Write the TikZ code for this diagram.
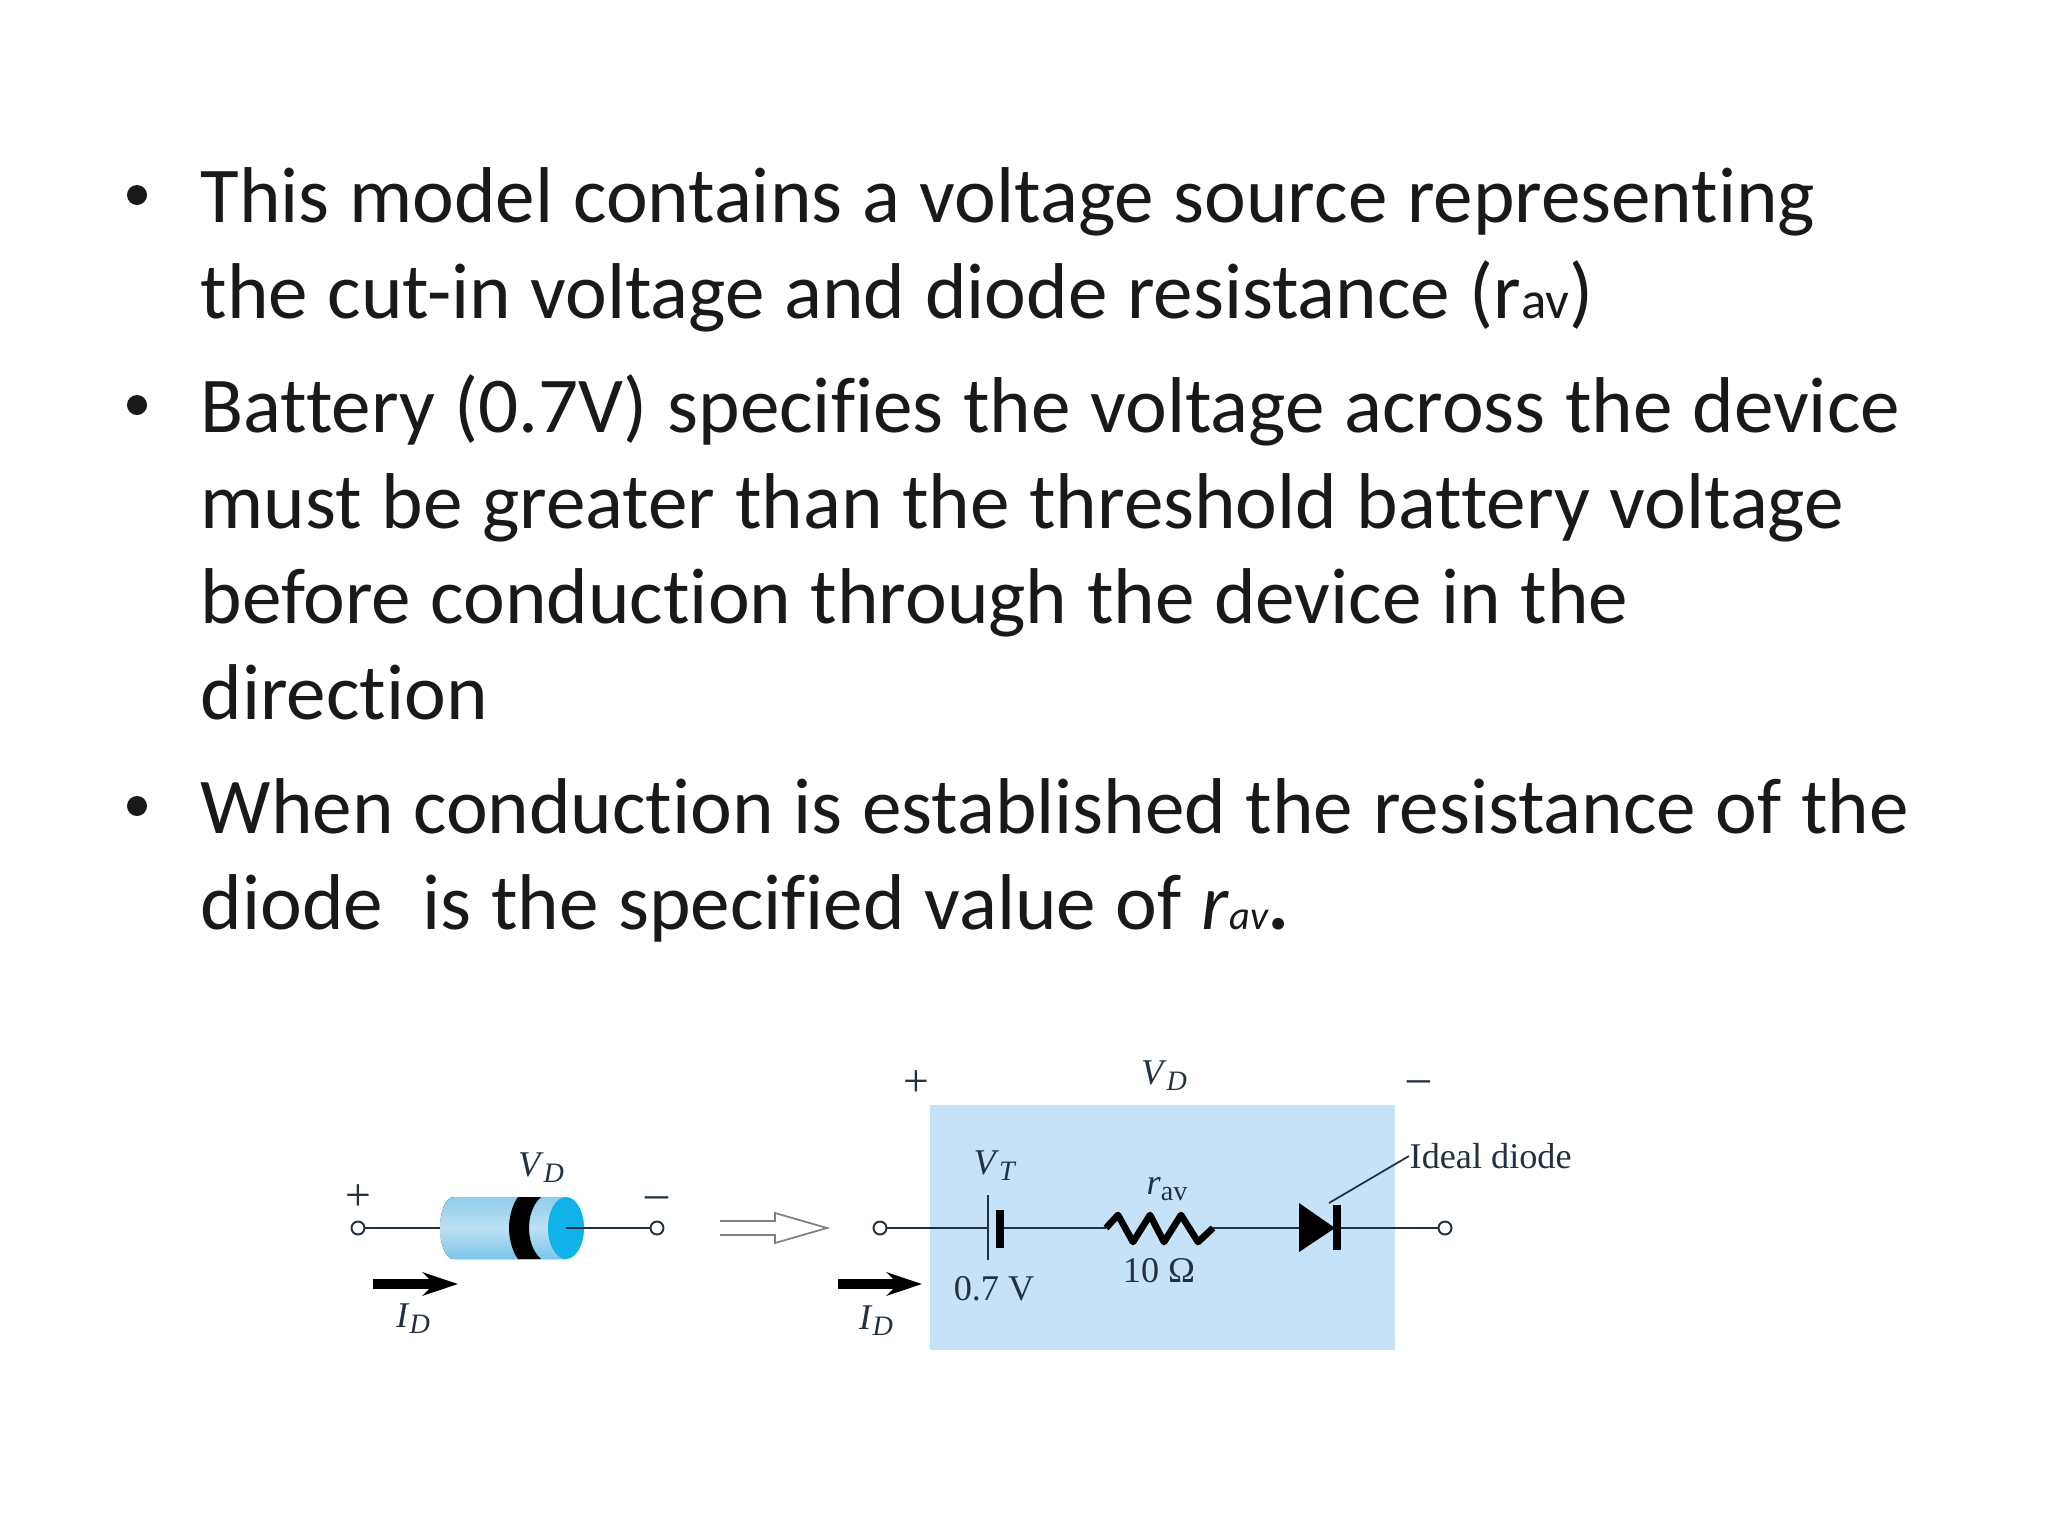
\documentclass[tikz,border=0pt]{standalone}
\usepackage{xcolor}
\usepackage{fontspec}
\setmainfont{Carlito}[Ligatures=NoCommon]
\newfontfamily\figfont{Liberation Serif}
\usepackage{tikz}
\usetikzlibrary{shapes,arrows,positioning,calc,arrows.meta}
\definecolor{boxblue}{HTML}{C5E2F8}
\definecolor{bodytop}{HTML}{8FCDEC}
\definecolor{bodymid}{HTML}{BCE0F3}
\definecolor{bodylow}{HTML}{7CC6EA}
\definecolor{capblue}{HTML}{10B2EA}
\definecolor{wireink}{HTML}{22313F}
\newcommand{\subbed}[2]{\textit{#1}\raisebox{-.35ex}{\fontsize{8}{9}\selectfont\textit{#2}}}
\tikzset{
    slidetext/.style={anchor=north west, inner sep=0pt, align=left, text width=195mm,
        font=\fontsize{22.5}{27.2}\selectfont, text=black!90,
        execute at begin node={\spaceskip=5.6pt\relax}},
    bulletdot/.style={circle, fill=black!90, inner sep=0pt, minimum size=20*0.2845pt},
    terminal/.style={circle, draw=wireink, fill=white, line width=0.55pt, inner sep=0pt, minimum size=13*0.2845pt},
    figlabel/.style={inner sep=0pt, font=\figfont\fontsize{10.3}{12}\selectfont, text=wireink},
    wire/.style={draw=wireink, line width=0.6pt},
    currentarrow/.style={line width=2.6pt, -{Stealth[length=10pt,width=6.6pt]}}
}
\begin{document}
\begin{tikzpicture}[x=0.01cm,y=-0.01cm]
    \useasboundingbox (0,0) rectangle (2048,1536);

    % Bullets
    \node[bulletdot] (dotA) at (137,195) {};
    \node[bulletdot] (dotB) at (137,405) {};
    \node[bulletdot] (dotC) at (137,806) {};

    % Slide text
    \node[slidetext] (textA) at (200,167) {This model contains a voltage source representing\\
        the cut-in voltage and diode resistance (r{\fontsize{15}{20}\selectfont av})};
    \node[slidetext] (textB) at (200,374) {Battery (0.7V) specifies the voltage across the device\\
        must be greater than the threshold battery voltage\\
        before conduction through the device in the\\
        direction};
    \node[slidetext] (textC) at (200,778) {When conduction is established the resistance of the\\
        diode~~is the specified value of \textit{r}{\fontsize{11.5}{20}\selectfont\textit{av}}\textbf{\textit{.}}};

    % Diode package
    \node[terminal] (leftPlus) at (358,1228) {};
    \node[terminal] (leftMinus) at (657,1228) {};
    \coordinate (bodyIn) at (440,1228);
    \coordinate (capOut) at (566,1228);
    \draw[wire] (leftPlus) -- (bodyIn);
    \fill[top color=bodytop, bottom color=bodylow, middle color=bodymid]
        (454,1197) -- (566,1197) -- (566,1259) -- (454,1259)
        .. controls (445,1259) and (440,1243) .. (440,1228)
        .. controls (440,1213) and (445,1197) .. (454,1197) -- cycle;
    \fill[black] (518,1197) -- (541,1197) .. controls (532,1205) and (529,1218) .. (529,1228)
        .. controls (529,1238) and (532,1251) .. (541,1259) -- (518,1259)
        .. controls (512,1251) and (509,1238) .. (509,1228)
        .. controls (509,1218) and (512,1205) .. (518,1197) -- cycle;
    \fill[capblue] (capOut) ellipse (18 and 31);
    \draw[wire] (capOut) -- (leftMinus);

    % Package labels
    \node[figlabel] (plusA) at (358,1198) {\fontsize{13}{13}\selectfont +};
    \node[figlabel] (minusA) at (657,1203) {\fontsize{13}{13}\selectfont –};
    \node[figlabel] (vdA) at (541,1168) {\subbed{V}{D}};
    \coordinate (arrowAin) at (373,1284);
    \coordinate (arrowAout) at (458,1284);
    \draw[currentarrow] (arrowAin) -- (arrowAout);
    \node[figlabel] (idA) at (413,1319) {\subbed{I}{D}};

    % Hollow arrow between the two
    \draw[gray, line width=0.5pt] (720,1221) -- (775,1221) -- (775,1213) -- (827,1228)
        -- (775,1243) -- (775,1235) -- (720,1235);

    % Model box
    \fill[boxblue] (930,1105) rectangle (1395,1350);
    \node[terminal] (rightPlus) at (880,1228) {};
    \node[terminal] (rightMinus) at (1445,1228) {};
    \coordinate (plateLong) at (988,1228);
    \coordinate (plateShort) at (1000,1228);
    \coordinate (resIn) at (1106,1228);
    \coordinate (resOut) at (1213,1228);
    \coordinate (diodeIn) at (1299,1228);
    \coordinate (diodeOut) at (1337,1228);
    \draw[wire] (rightPlus) -- (plateLong);
    \draw[wire, line width=0.8pt] (plateShort) -- (resIn);
    \draw[wire, line width=0.8pt] (resOut) -- (diodeIn);
    \draw[wire] (diodeOut) -- (rightMinus);

    % Battery
    \draw[wireink, line width=0.6pt] (988,1195) -- (988,1260);
    \fill[black] (996,1210) rectangle (1004,1248);

    % Resistor
    \draw[black, line width=1.9pt, line join=round] (resIn) -- (1118,1215) -- (1133,1242)
        -- (1150,1215) -- (1164,1242) -- (1181,1215) -- (1198,1242) -- (resOut);

    % Diode
    \fill[black] (1299,1203) -- (1335,1228) -- (1299,1252) -- cycle;
    \fill[black] (1333,1205) rectangle (1341,1250);

    % Model labels
    \node[figlabel] (plusB) at (916,1084) {\fontsize{13}{13}\selectfont +};
    \node[figlabel] (minusB) at (1419,1087) {\fontsize{13}{13}\selectfont –};
    \node[figlabel] (vdB) at (1164,1076) {\subbed{V}{D}};
    \node[figlabel] (vt) at (995,1166) {\subbed{V}{T}};
    \node[figlabel] (rav) at (1167,1189) {\textit{r}\raisebox{-.35ex}{\fontsize{8}{9}\selectfont av}};
    \node[figlabel] (tenOhm) at (1159,1271) {10 Ω};
    \node[figlabel] (sevenVolt) at (994,1289) {0.7 V};
    \node[figlabel, anchor=west] (ideal) at (1409,1156) {Ideal diode};
    \coordinate (idealTip) at (1329,1203);
    \draw[wire, line width=0.5pt] (ideal.west) -- (idealTip);

    \coordinate (arrowBin) at (838,1284);
    \coordinate (arrowBout) at (922,1284);
    \draw[currentarrow] (arrowBin) -- (arrowBout);
    \node[figlabel] (idB) at (876,1321) {\subbed{I}{D}};
\end{tikzpicture}
\end{document}
